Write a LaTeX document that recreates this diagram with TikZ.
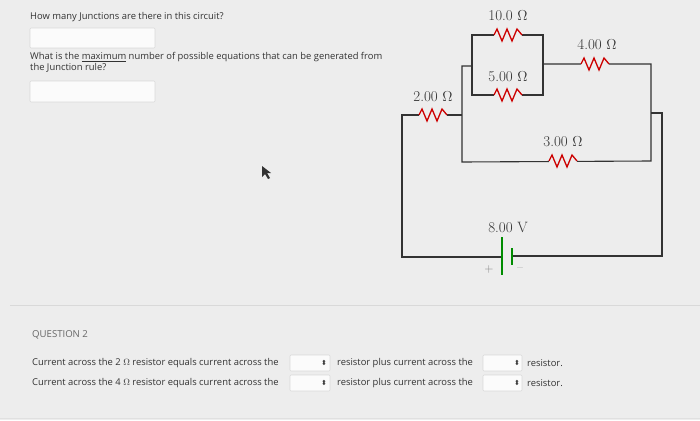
\documentclass[tikz,border=0pt]{standalone}
\usepackage{fontspec}
\setsansfont{Open Sans}
\newfontfamily\symf{DejaVu Sans}
\tikzset{
 wire/.style={draw=black!80,line width=1.1pt},
 resz/.style={draw=red!80!black,line width=1.3pt,line join=miter},
 clabel/.style={font=\fontsize{15}{16}\selectfont,text=black!80},
 qtext/.style={font=\sffamily\fontsize{9.4}{11}\selectfont,text=black!80,anchor=west,inner sep=0pt},
 inbox/.style={draw=black!15,fill=white!60!black!4,rounded corners=1pt,line width=0.6pt},
}
\newcommand{\myres}[2]{\draw[resz] (#1-14,#2)--(#1-11,#2-6)--(#1-6,#2+6)--(#1-1,#2-6)--(#1+4,#2+6)--(#1+9,#2-6)--(#1+14,#2);}
\begin{document}
\begin{tikzpicture}[x=1pt,y=-1pt]
\fill[black!7] (0,0) rectangle (700,420);
\useasboundingbox (0,0) rectangle (700,420);
% left questions
\node[qtext] (q1) at (30,17) {How many Junctions are there in this circuit?};
\draw[inbox] (30,28) rectangle (155,48);
\node[qtext,align=left,anchor=north west] (q2) at (30,52) {What is the \underline{maximum} number of possible equations that can be generated from\\the Junction rule?};
\draw[inbox] (30,81) rectangle (155,102);
\fill[black!80] (262,166)--(262,177)--(265,174)--(268,179)--(270,178)--(267,173)--(271,173)--cycle;
% circuit wires
\draw[wire] (472,66)--(462,66)--(462,162)--(651,161)--(651,64)--(543,64);
\draw[wire] (472,35) rectangle (543,95);
\draw[wire] (651,113)--(662,113)--(662,256)--(512,256);
\draw[wire] (502,257)--(402,257)--(402,115)--(462,115);
% erase wire under resistors
\fill[black!7] (494,30) rectangle (522,40);
\fill[black!7] (494,90) rectangle (522,100);
\fill[black!7] (581,59) rectangle (609,69);
\fill[black!7] (549,155) rectangle (577,166);
\fill[black!7] (419,110) rectangle (447,120);
\myres{508}{35}\myres{508}{95}\myres{595}{64}\myres{563}{161}\myres{433}{115}
\draw[green!55!black,line width=1.5pt] (502,237)--(502,275);
\draw[green!55!black,line width=1.5pt] (512,248)--(512,265);
\node[clabel] (r10) at (508,16) {10.0 $\Omega$};
\node[clabel] (r5) at (508,77) {5.00 $\Omega$};
\node[clabel] (r4) at (597,45) {4.00 $\Omega$};
\node[clabel] (r3) at (563,142) {3.00 $\Omega$};
\node[clabel] (r2) at (433,97) {2.00 $\Omega$};
\node[clabel] (v) at (508,227) {8.00 V};
\node[text=black!50,font=\large] (pl) at (489,270) {+};
\node[text=black!50,font=\large] (mi) at (520,270) {--};
% separator and question 2
\draw[black!15,line width=1pt] (10,305)--(700,305);
\node[qtext,text=black!60,font=\sffamily\fontsize{9.6}{11}\selectfont] (qn) at (32,335) {QUESTION 2};
\foreach \y/\n in {363/2,383/4}{
 \node[qtext] at (32,\y) {Current across the \n\ $\Omega$ resistor equals current across the};
 \draw[inbox] (290,\y-8) rectangle (330,\y+8);
 \node[qtext,font=\symf\fontsize{7}{7}\selectfont] at (321,\y) {⬍};
 \node[qtext] at (337,\y) {resistor plus current across the};
 \draw[inbox] (483,\y-8) rectangle (522,\y+8);
 \node[qtext,font=\symf\fontsize{7}{7}\selectfont] at (514,\y) {⬍};
 \node[qtext] at (527,\y) {resistor.};
}
\draw[black!12] (0,418)--(700,418);
\end{tikzpicture}
\end{document}
